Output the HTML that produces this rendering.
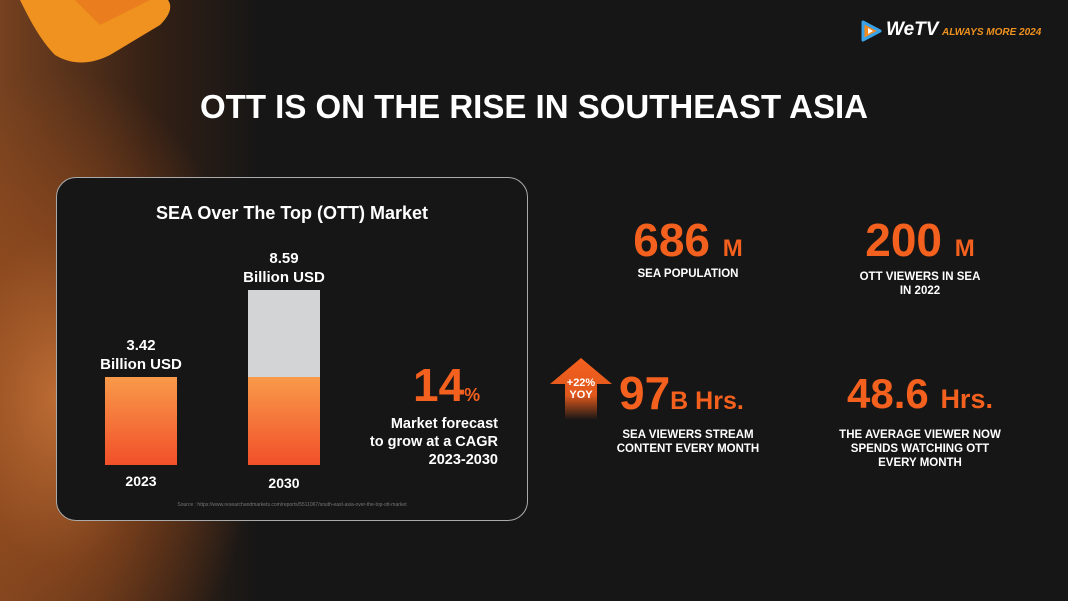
<!DOCTYPE html>
<html><head><meta charset="utf-8"><style>
*{margin:0;padding:0;box-sizing:border-box}
html,body{width:1068px;height:601px;overflow:hidden}
body{background:radial-gradient(ellipse 200px 330px at 60px 400px,rgba(200,115,55,0.9),rgba(160,80,30,0.55) 50%,rgba(22,22,22,0) 100%),linear-gradient(90deg,rgba(150,80,35,0.75) 0px,rgba(90,45,20,0.45) 150px,rgba(22,22,22,0) 260px),#161616;font-family:"Liberation Sans",sans-serif;position:relative;color:#fff}
.a{position:absolute}
.c{text-align:center;font-weight:bold}
.or{color:#f4601e}
.big{font-size:46px;font-weight:900}
.lab{font-size:11.5px;font-weight:bold;line-height:14px}
</style></head><body>
<svg class="a" style="left:0;top:0" width="200" height="70"><path d="M20 0 L168 0 Q175 10 160 25 L110 55 Q80 70 55 55 Q40 40 25 10 Z" fill="#f0921f"/><path d="M75 0 L150 0 L100 25 Z" fill="#e8781e" opacity=".8"/></svg>
<svg class="a" style="left:860px;top:20px" width="22" height="22"><path d="M3 2 L20 11 L3 20 Z" fill="#f28a20" stroke="#3aa3e8" stroke-width="3" stroke-linejoin="round"/><path d="M8 8 L13 11 L8 14 Z" fill="#fff"/></svg>
<div class="a" style="left:886px;top:19px;font-size:19px;font-weight:900;font-style:italic">WeTV</div>
<div class="a" style="left:942px;top:27px;font-size:10px;font-weight:900;font-style:italic;color:#f0921f">ALWAYS MORE 2024</div>
<div class="a c" style="left:0;width:1068px;top:88px;font-size:33px;font-weight:900">OTT IS ON THE RISE IN SOUTHEAST ASIA</div>
<div class="a" style="left:56px;top:177px;width:472px;height:344px;border:1.5px solid #aaa;border-radius:20px;background:#161616"></div>
<div class="a c" style="left:56px;width:472px;top:203px;font-size:18px">SEA Over The Top (OTT) Market</div>
<div class="a c" style="left:90px;width:102px;top:336px;font-size:15px;line-height:19px">3.42<br>Billion USD</div>
<div class="a" style="left:105px;top:377px;width:72px;height:88px;background:linear-gradient(#f89a4a,#f2502a)"></div>
<div class="a c" style="left:90px;width:102px;top:473px;font-size:14px">2023</div>
<div class="a c" style="left:233px;width:102px;top:249px;font-size:15px;line-height:19px">8.59<br>Billion USD</div>
<div class="a" style="left:248px;top:290px;width:72px;height:87px;background:#d3d4d6"></div>
<div class="a" style="left:248px;top:377px;width:72px;height:88px;background:linear-gradient(#f89a4a,#f2502a)"></div>
<div class="a c" style="left:233px;width:102px;top:475px;font-size:14px">2030</div>
<div class="a or" style="left:413px;top:358px;font-size:46px;font-weight:900">14<span style="font-size:18px">%</span></div>
<div class="a" style="left:320px;width:178px;top:415px;text-align:right;font-size:14.5px;font-weight:bold;line-height:18px">Market forecast<br>to grow at a CAGR<br>2023-2030</div>
<div class="a c" style="left:56px;width:472px;top:502px;font-size:5px;color:#777;font-weight:normal">Source : https://www.researchandmarkets.com/reports/5511067/south-east-asia-over-the-top-ott-market</div>
<div class="a c or big" style="left:588px;width:200px;top:213px">686 <span style="font-size:24px">M</span></div>
<div class="a c lab" style="left:588px;width:200px;top:267px">SEA POPULATION</div>
<div class="a c or big" style="left:820px;width:200px;top:213px">200 <span style="font-size:24px">M</span></div>
<div class="a c lab" style="left:820px;width:200px;top:270px">OTT VIEWERS IN SEA<br>IN 2022</div>
<svg class="a" style="left:550px;top:358px" width="62" height="62"><defs><linearGradient id="g" x1="0" y1="0" x2="0" y2="1"><stop offset="0" stop-color="#f4601e"/><stop offset=".6" stop-color="#e0581c"/><stop offset="1" stop-color="#161616"/></linearGradient></defs><path d="M31 0 L62 26 L47 26 L47 62 L15 62 L15 26 L0 26 Z" fill="url(#g)"/></svg>
<div class="a c" style="left:555px;width:52px;top:377px;font-size:11px;line-height:12px">+22%<br>YOY</div>
<div class="a or" style="left:619px;top:366px;font-size:46px;font-weight:900">97<span style="font-size:25px">B Hrs.</span></div>
<div class="a c lab" style="left:588px;width:200px;top:428px">SEA VIEWERS STREAM<br>CONTENT EVERY MONTH</div>
<div class="a c or" style="left:810px;width:220px;top:370px;font-size:42px;font-weight:900">48.6 <span style="font-size:27px">Hrs.</span></div>
<div class="a c lab" style="left:820px;width:200px;top:428px">THE AVERAGE VIEWER NOW<br>SPENDS WATCHING OTT<br>EVERY MONTH</div>
</body></html>
